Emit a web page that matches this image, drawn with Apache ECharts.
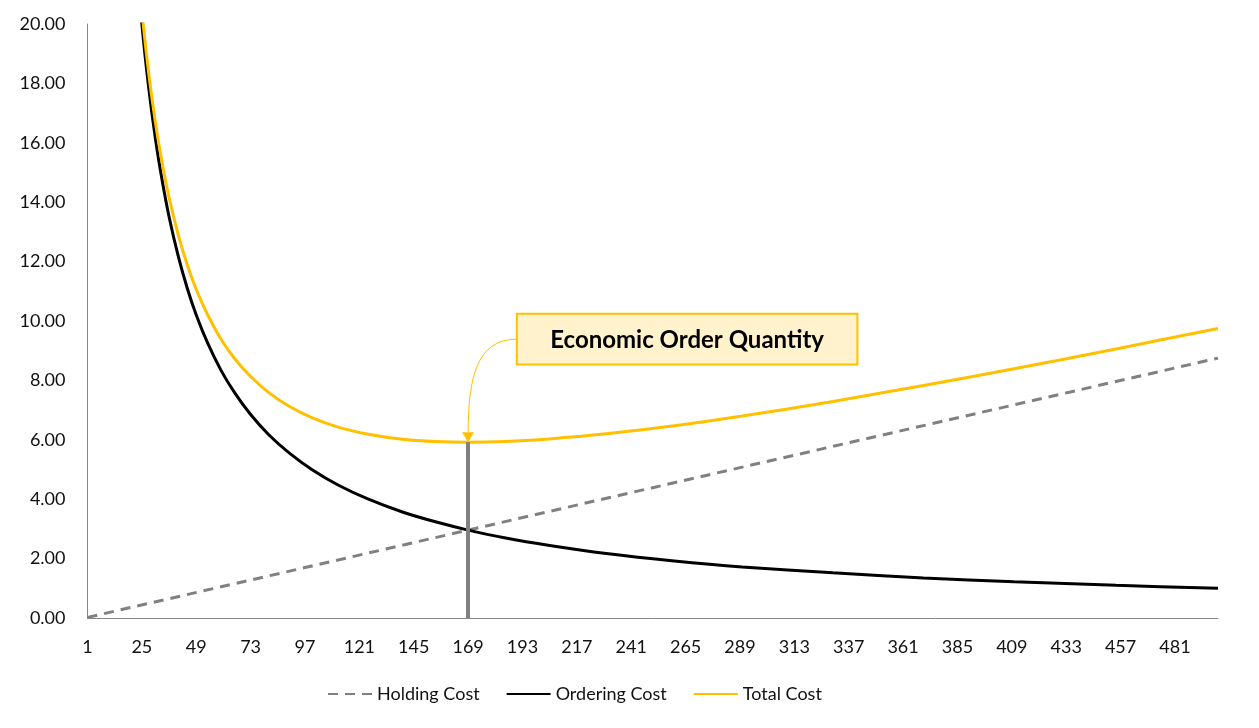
<!DOCTYPE html>
<html>
<head>
<meta charset="utf-8">
<script src="https://cdn.jsdelivr.net/npm/echarts@6/dist/echarts.min.js"></script>
<style>
html,body{margin:0;padding:0;background:#fff;}
#chart{width:1259px;height:728px;}
</style>
</head>
<body>
<div id="chart"></div>
<script>
// Order quantity categories (1..500)
var categories = [];
for (var c = 1; c <= 500; c++) categories.push(String(c));

var costX = ['20','22','25','28','31','34','37','41','45','49','54','60','66','73','81','90','100','112','125','140','155','169','185','205','230','260','290','330','370','410','455','500'];
var orderingCost = [25.00,22.73,20.00,17.86,16.13,14.71,13.51,12.20,11.11,10.20,9.26,8.33,7.58,6.85,6.17,5.56,5.00,4.46,4.00,3.57,3.23,2.96,2.70,2.44,2.17,1.92,1.72,1.52,1.35,1.22,1.10,1.00];
var totalCost = [25.35,23.12,20.44,18.35,16.67,15.31,14.16,12.92,11.90,11.06,10.21,9.38,8.73,8.13,7.59,7.13,6.75,6.42,6.19,6.02,5.94,5.92,5.94,6.03,6.20,6.47,6.80,7.29,7.83,8.39,9.06,9.75];
var holdingX = ['1','100','169','250','500'];
var holdingCost = [0.02,1.75,2.96,4.38,8.75];
var yTicks = [0,2,4,6,8,10,12,14,16,18,20];
var eoqQty = '169';
var eoqLabel = 'Economic Order Quantity';

function pairs(xs, ys){ return xs.map(function(x,i){ return [x, ys[i]]; }); }
var eoqTotal = totalCost[costX.indexOf(eoqQty)];

var FONT = 'Lato';
var chart = echarts.init(document.getElementById('chart'));
chart.setOption({
  animation: false,
  backgroundColor: '#fff',
  textStyle: {fontFamily: FONT},
  grid: {left: 87.5, right: 41, top: 24, bottom: 110, containLabel: false},
  legend: {
    left: 322, top: 680,
    itemWidth: 44, itemHeight: 4, itemGap: 26,
    itemStyle: {opacity: 0},
    textStyle: {fontFamily: FONT, fontSize: 18, color: '#111'},
    data: ['Holding Cost','Ordering Cost','Total Cost']
  },
  xAxis: {
    type: 'category', data: categories, boundaryGap: false,
    axisLine: {lineStyle: {color: '#868686', width: 1}},
    axisTick: {show: false},
    axisLabel: {interval: 23, fontFamily: FONT, fontSize: 18, color: '#111', margin: 20},
    splitLine: {show: false}
  },
  yAxis: {
    type: 'value', min: yTicks[0], max: yTicks[yTicks.length-1], interval: 2,
    axisLine: {show: true, lineStyle: {color: '#868686', width: 1}},
    axisTick: {show: false},
    splitLine: {show: false},
    axisLabel: {fontFamily: FONT, fontSize: 18, color: '#111', margin: 22,
      formatter: function(v){ return v.toFixed(2); }}
  },
  series: [
    {name: 'Holding Cost', type: 'line', data: pairs(holdingX, holdingCost), symbol: 'none',
     lineStyle: {color: '#808080', width: 3, type: [10, 7]}, itemStyle: {color: '#808080'}, z: 2},
    {name: 'Ordering Cost', type: 'line', data: pairs(costX, orderingCost), symbol: 'none',
     smooth: 0.3,
     lineStyle: {color: '#000', width: 3}, itemStyle: {color: '#000'}, z: 3},
    {name: 'Total Cost', type: 'line', data: pairs(costX, totalCost), symbol: 'none',
     smooth: 0.3,
     lineStyle: {color: '#FFC000', width: 3}, itemStyle: {color: '#FFC000'}, z: 4,
     markLine: {silent: true, symbol: ['none','none'], label: {show: false},
       lineStyle: {color: '#808080', width: 4, type: 'solid'},
       data: [[{coord: [eoqQty, 0]}, {coord: [eoqQty, eoqTotal]}]]}}
  ]
});

var tip = chart.convertToPixel({xAxisIndex: 0, yAxisIndex: 0}, [eoqQty, eoqTotal]);
var bx = tip[0] + 48.7, by = tip[1] - 128.4, bw = 340.6, bh = 50.7;
var sy = by + bh/2;
chart.setOption({
  graphic: [
    {type: 'bezierCurve', silent: true, z: 100,
     shape: {x1: bx, y1: sy, cpx1: tip[0] + 8, cpy1: sy, cpx2: tip[0], cpy2: sy + 40, x2: tip[0], y2: tip[1] - 8},
     style: {stroke: '#FFC000', lineWidth: 1, fill: null}},
    {type: 'polygon', silent: true, z: 100,
     shape: {points: [[tip[0]-6, tip[1]-10], [tip[0]+6, tip[1]-10], [tip[0], tip[1]]]},
     style: {fill: '#FFC000'}},
    {type: 'rect', silent: true, z: 100,
     shape: {x: bx, y: by, width: bw, height: bh},
     style: {fill: '#FFF2CC', stroke: '#FFC000', lineWidth: 2}},
    {type: 'text', silent: true, z: 101,
     style: {x: bx + bw/2, y: sy + 1, text: eoqLabel, align: 'center', verticalAlign: 'middle',
       font: 'bold 24px Lato', fill: '#000'}}
  ]
});
</script>
</body>
</html>
